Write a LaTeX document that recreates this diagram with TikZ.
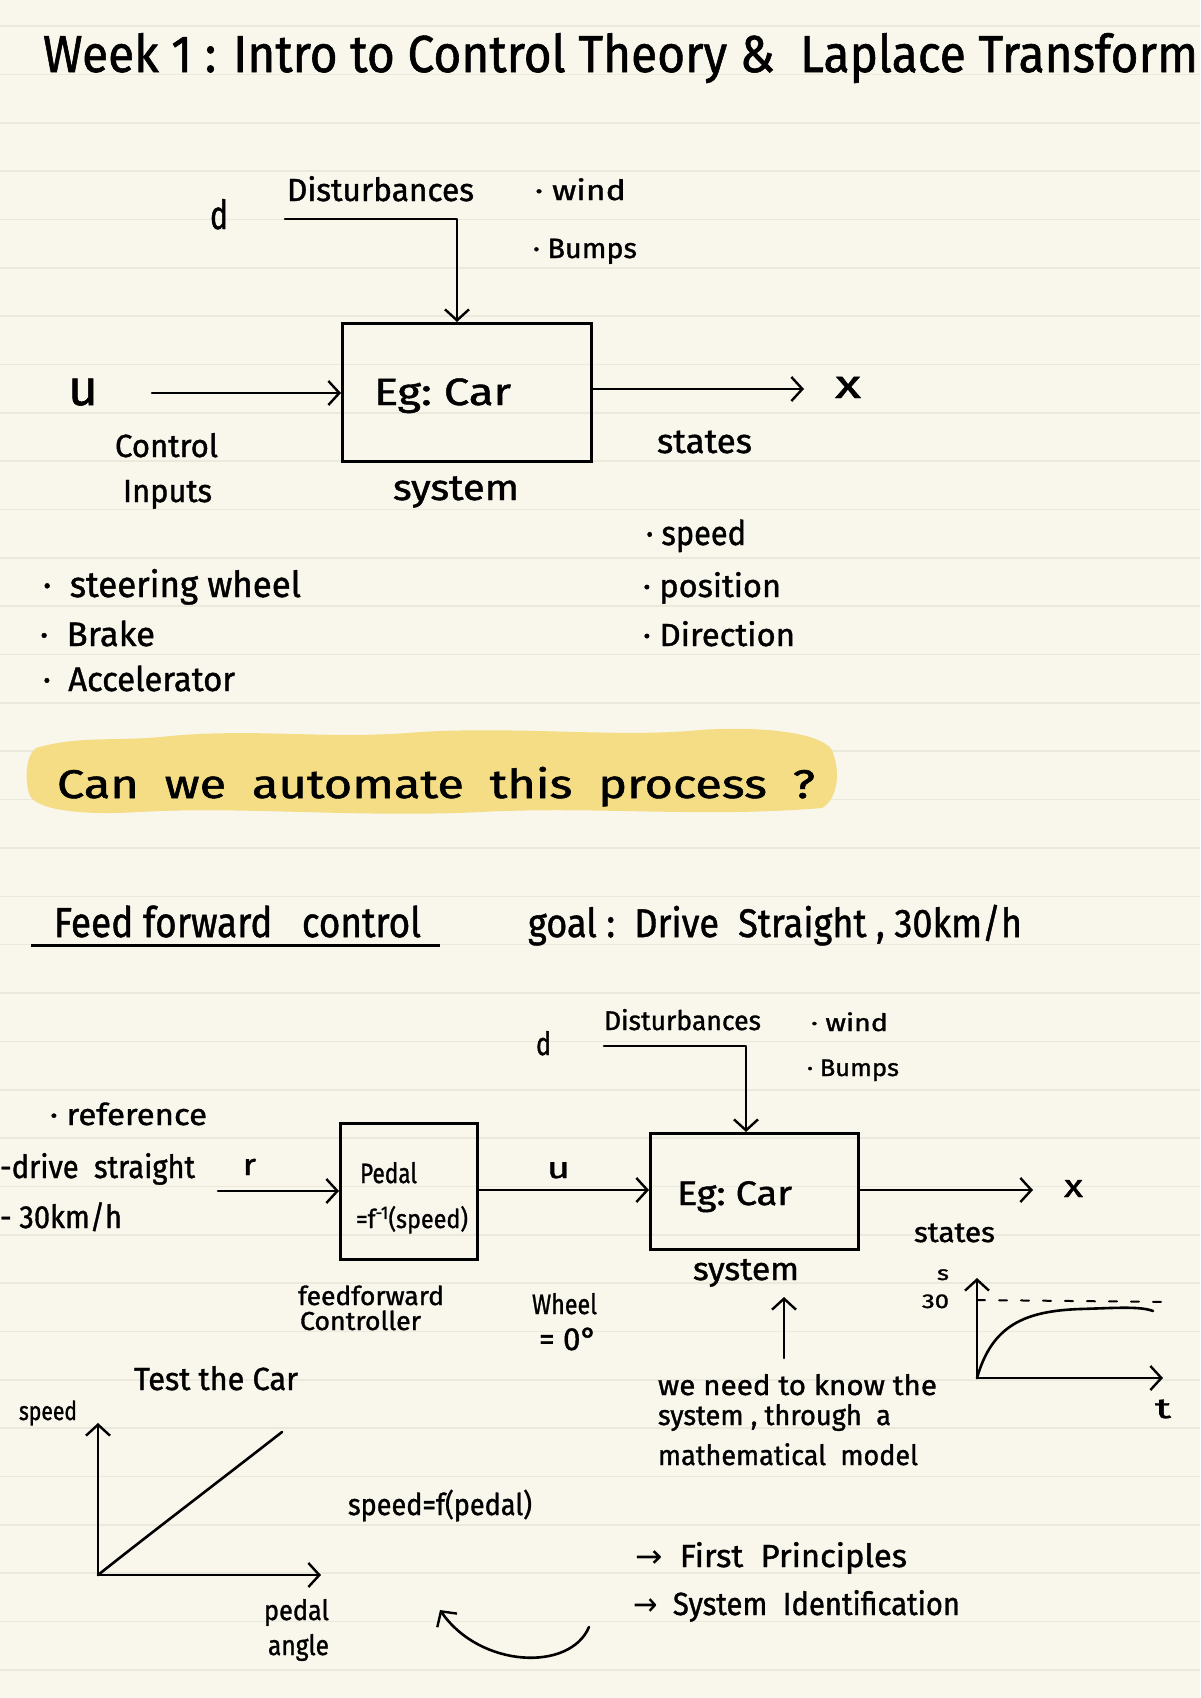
\documentclass[tikz,border=0pt]{standalone}
\usepackage{fontspec}
\setmainfont{Fira Sans}[FakeBold=1.2]
\newfontfamily\arrowfont{DejaVu Sans}
\usetikzlibrary{arrows.meta}
\definecolor{paper}{HTML}{F9F6EC}
\definecolor{rule}{HTML}{EBE8DC}
\definecolor{hilite}{HTML}{F4DD85}
\newcommand\hwtext[6]{\node[txt] (#1) at (#2,#3) {\fontsize{#4}{#4}\selectfont\resizebox{#5pt}{\height}{#6}};}
\tikzset{
  txt/.style={anchor=base west,inner sep=0pt,outer sep=0pt},
  ink/.style={line width=2.6pt,line cap=round,line join=round},
  arr/.style={ink,-{Straight Barb[length=11pt,width=24pt,line width=2.4pt]}},
  blk/.style={draw,line width=3pt,inner sep=0pt,anchor=north west}
}
\begin{document}
\begin{tikzpicture}[x=1pt,y=-1pt]
\useasboundingbox (0,0) rectangle (1200,1698);
\fill[paper] (0,0) rectangle (1200,1698);
\foreach \k in {0,...,34} {\draw[rule,line width=1.6pt] (0,26+48.35*\k) -- (1200,26+48.35*\k);}
% ---------- title
\hwtext{title}{43}{72}{52}{1155}{Week 1 : Intro to Control Theory \&\ \ Laplace Transform}
% ---------- top diagram
\node[blk,minimum width=249pt,minimum height=138pt] (box1) at (341,322) {};
\hwtext{d1}{210}{229}{40}{18}{d}
\hwtext{dist1}{287}{201}{32}{187}{Disturbances}
\hwtext{wind1}{535}{200}{28}{91}{· wind}
\hwtext{bumps1}{533}{258}{28}{104}{· Bumps}
\hwtext{car1}{374}{405}{38}{137}{Eg:\ Car}
\hwtext{u1}{68}{405}{50}{30}{u}
\hwtext{x1}{835}{398}{40}{26}{x}
\hwtext{ctrl1}{115}{457}{32}{103}{Control}
\hwtext{inp1}{123}{502}{32}{89}{Inputs}
\hwtext{sys1}{393}{500}{36}{126}{system}
\hwtext{states1}{657}{453}{34}{95}{states}
\hwtext{speed1}{646}{545}{34}{100}{· speed}
\hwtext{pos1}{643}{597}{32}{138}{· position}
\hwtext{dir1}{643}{646}{32}{152}{· Direction}
\hwtext{steer1}{43}{597}{36}{258}{·\ \ steering wheel}
\hwtext{brake1}{40}{646}{34}{115}{·\ \ Brake}
\hwtext{acc1}{43}{691}{34}{192}{·\ \ Accelerator}
\coordinate (dstart1) at (285,219);
\coordinate (dturn1) at (457,219);
\coordinate (ustart1) at (152,393);
\coordinate (xend1) at (804,389);
\draw[arr] (dstart1) -- (dturn1) -- (dturn1 |- box1.north);
\draw[arr] (ustart1) -- (ustart1 -| box1.west);
\draw[arr] (xend1 -| box1.east) -- (xend1);
% ---------- highlight
\fill[hilite] (36,748) .. controls (80,735) and (120,742) .. (170,736)
  .. controls (260,728) and (330,740) .. (420,732)
  .. controls (520,726) and (620,738) .. (700,730)
  .. controls (760,726) and (820,732) .. (832,750)
  .. controls (842,775) and (836,800) .. (822,808)
  .. controls (700,818) and (600,806) .. (480,812)
  .. controls (360,818) and (240,806) .. (140,812)
  .. controls (90,815) and (40,812) .. (30,796)
  .. controls (24,780) and (26,755) .. (36,748) -- cycle;
\hwtext{q1}{57}{798}{40}{758}{Can\ \ we\ \ automate\ \ this\ \ process\ \ ?}
% ---------- feedforward section
\hwtext{ff}{54}{937}{42}{367}{Feed forward\ \ \ control}
\coordinate (ulA) at (31,945);
\coordinate (ulB) at (440,945);
\draw[line width=3pt] (ulA) -- (ulB);
\hwtext{goal}{528}{937}{40}{494}{goal :\ \ Drive\ \ Straight , 30km/h}
\node[blk,minimum width=208pt,minimum height=116pt] (box2) at (649,1132) {};
\node[blk,minimum width=137pt,minimum height=136pt] (pedal) at (339,1122) {};
\hwtext{d2}{536}{1055}{32}{15}{d}
\hwtext{dist2}{604}{1030}{27}{157}{Disturbances}
\hwtext{wind2}{811}{1031}{24}{77}{· wind}
\hwtext{bumps2}{807}{1076}{24}{92}{· Bumps}
\hwtext{car2}{677}{1205}{34}{115}{Eg:\ Car}
\hwtext{x2}{1064}{1197}{32}{19}{x}
\hwtext{ped1}{360}{1183}{28}{57}{Pedal}
\hwtext{ped2}{356}{1228}{26}{112}{=f\textsuperscript{-1}(speed)}
\hwtext{r2}{243}{1175}{30}{13}{r}
\hwtext{u2}{547}{1178}{30}{23}{u}
\hwtext{ref}{50}{1125}{30}{157}{·\ reference}
\hwtext{drv}{0}{1178}{32}{195}{-drive\ \ straight}
\hwtext{kmh}{0}{1228}{32}{122}{- 30km/h}
\hwtext{states2}{914}{1242}{28}{81}{states}
\hwtext{sys2}{693}{1280}{32}{106}{system}
\hwtext{ffc1}{298}{1305}{26}{146}{feedforward}
\hwtext{ffc2}{300}{1330}{26}{121}{Controller}
\hwtext{wh1}{532}{1314}{28}{65}{Wheel}
\hwtext{wh2}{539}{1350}{32}{58}{= 0°}
\hwtext{need1}{658}{1395}{28}{279}{we need to know the}
\hwtext{need2}{658}{1425}{28}{233}{system , through\ \ a}
\hwtext{need3}{658}{1465}{28}{260}{mathematical\ \ model}
\coordinate (dstart2) at (604,1046);
\coordinate (dturn2) at (746,1046);
\coordinate (rstart) at (218,1191);
\coordinate (xend2) at (1033,1190);
\draw[arr] (dstart2) -- (dturn2) -- (dturn2 |- box2.north);
\draw[arr] (rstart) -- (rstart -| pedal.west);
\draw[arr] (pedal.east |- 0,1190) -- (box2.west |- 0,1190);
\draw[arr] (box2.east |- xend2) -- (xend2);
\coordinate (upA) at (784,1358);
\coordinate (upB) at (784,1297);
\draw[arr] (upA) -- (upB);
% ---------- right graph
\hwtext{gs}{937}{1280}{20}{12}{s}
\hwtext{g30}{922}{1308}{20}{27}{30}
\hwtext{gt}{1155}{1418}{28}{16}{t}
\coordinate (o2) at (977,1378);
\coordinate (o2y) at (977,1278);
\coordinate (o2x) at (1163,1378);
\draw[arr] (o2) -- (o2y);
\draw[arr] (o2) -- (o2x);
\coordinate (tickA) at (977,1300);
\coordinate (dashB) at (1167,1302);
\draw[ink,line width=2pt,dash pattern=on 8pt off 14pt] (tickA) -- (dashB);
\draw[ink] (o2) .. controls (992,1325) and (1025,1311) .. (1080,1309)
  .. controls (1115,1308) and (1140,1306) .. (1153,1311);
% ---------- left graph
\hwtext{test}{134}{1390}{32}{164}{Test the Car}
\hwtext{lspeed}{19}{1420}{26}{58}{speed}
\hwtext{sfp}{348}{1515}{30}{184}{speed=f(pedal)}
\hwtext{pa1}{264}{1620}{28}{65}{pedal}
\hwtext{pa2}{268}{1655}{28}{61}{angle}
\coordinate (o1) at (98,1575);
\coordinate (o1y) at (98,1423);
\coordinate (o1x) at (321,1575);
\coordinate (lineEnd) at (282,1432);
\draw[arr] (o1) -- (o1y);
\draw[arr] (o1) -- (o1x);
\draw[ink] (o1) .. controls (152,1532) and (218,1482) .. (lineEnd);
% ---------- curved arrow and list
\coordinate (cvA) at (589,1627);
\coordinate (cvB) at (440,1610);
\draw[arr] (cvA) .. controls (570,1672) and (480,1668) .. (cvB);
\hwtext{fp}{635}{1567}{32}{272}{{\arrowfont →}\ \ First\ \ Principles}
\hwtext{si}{633}{1615}{32}{327}{{\arrowfont →}\ \ System\ \ Identification}
\end{tikzpicture}
\end{document}
